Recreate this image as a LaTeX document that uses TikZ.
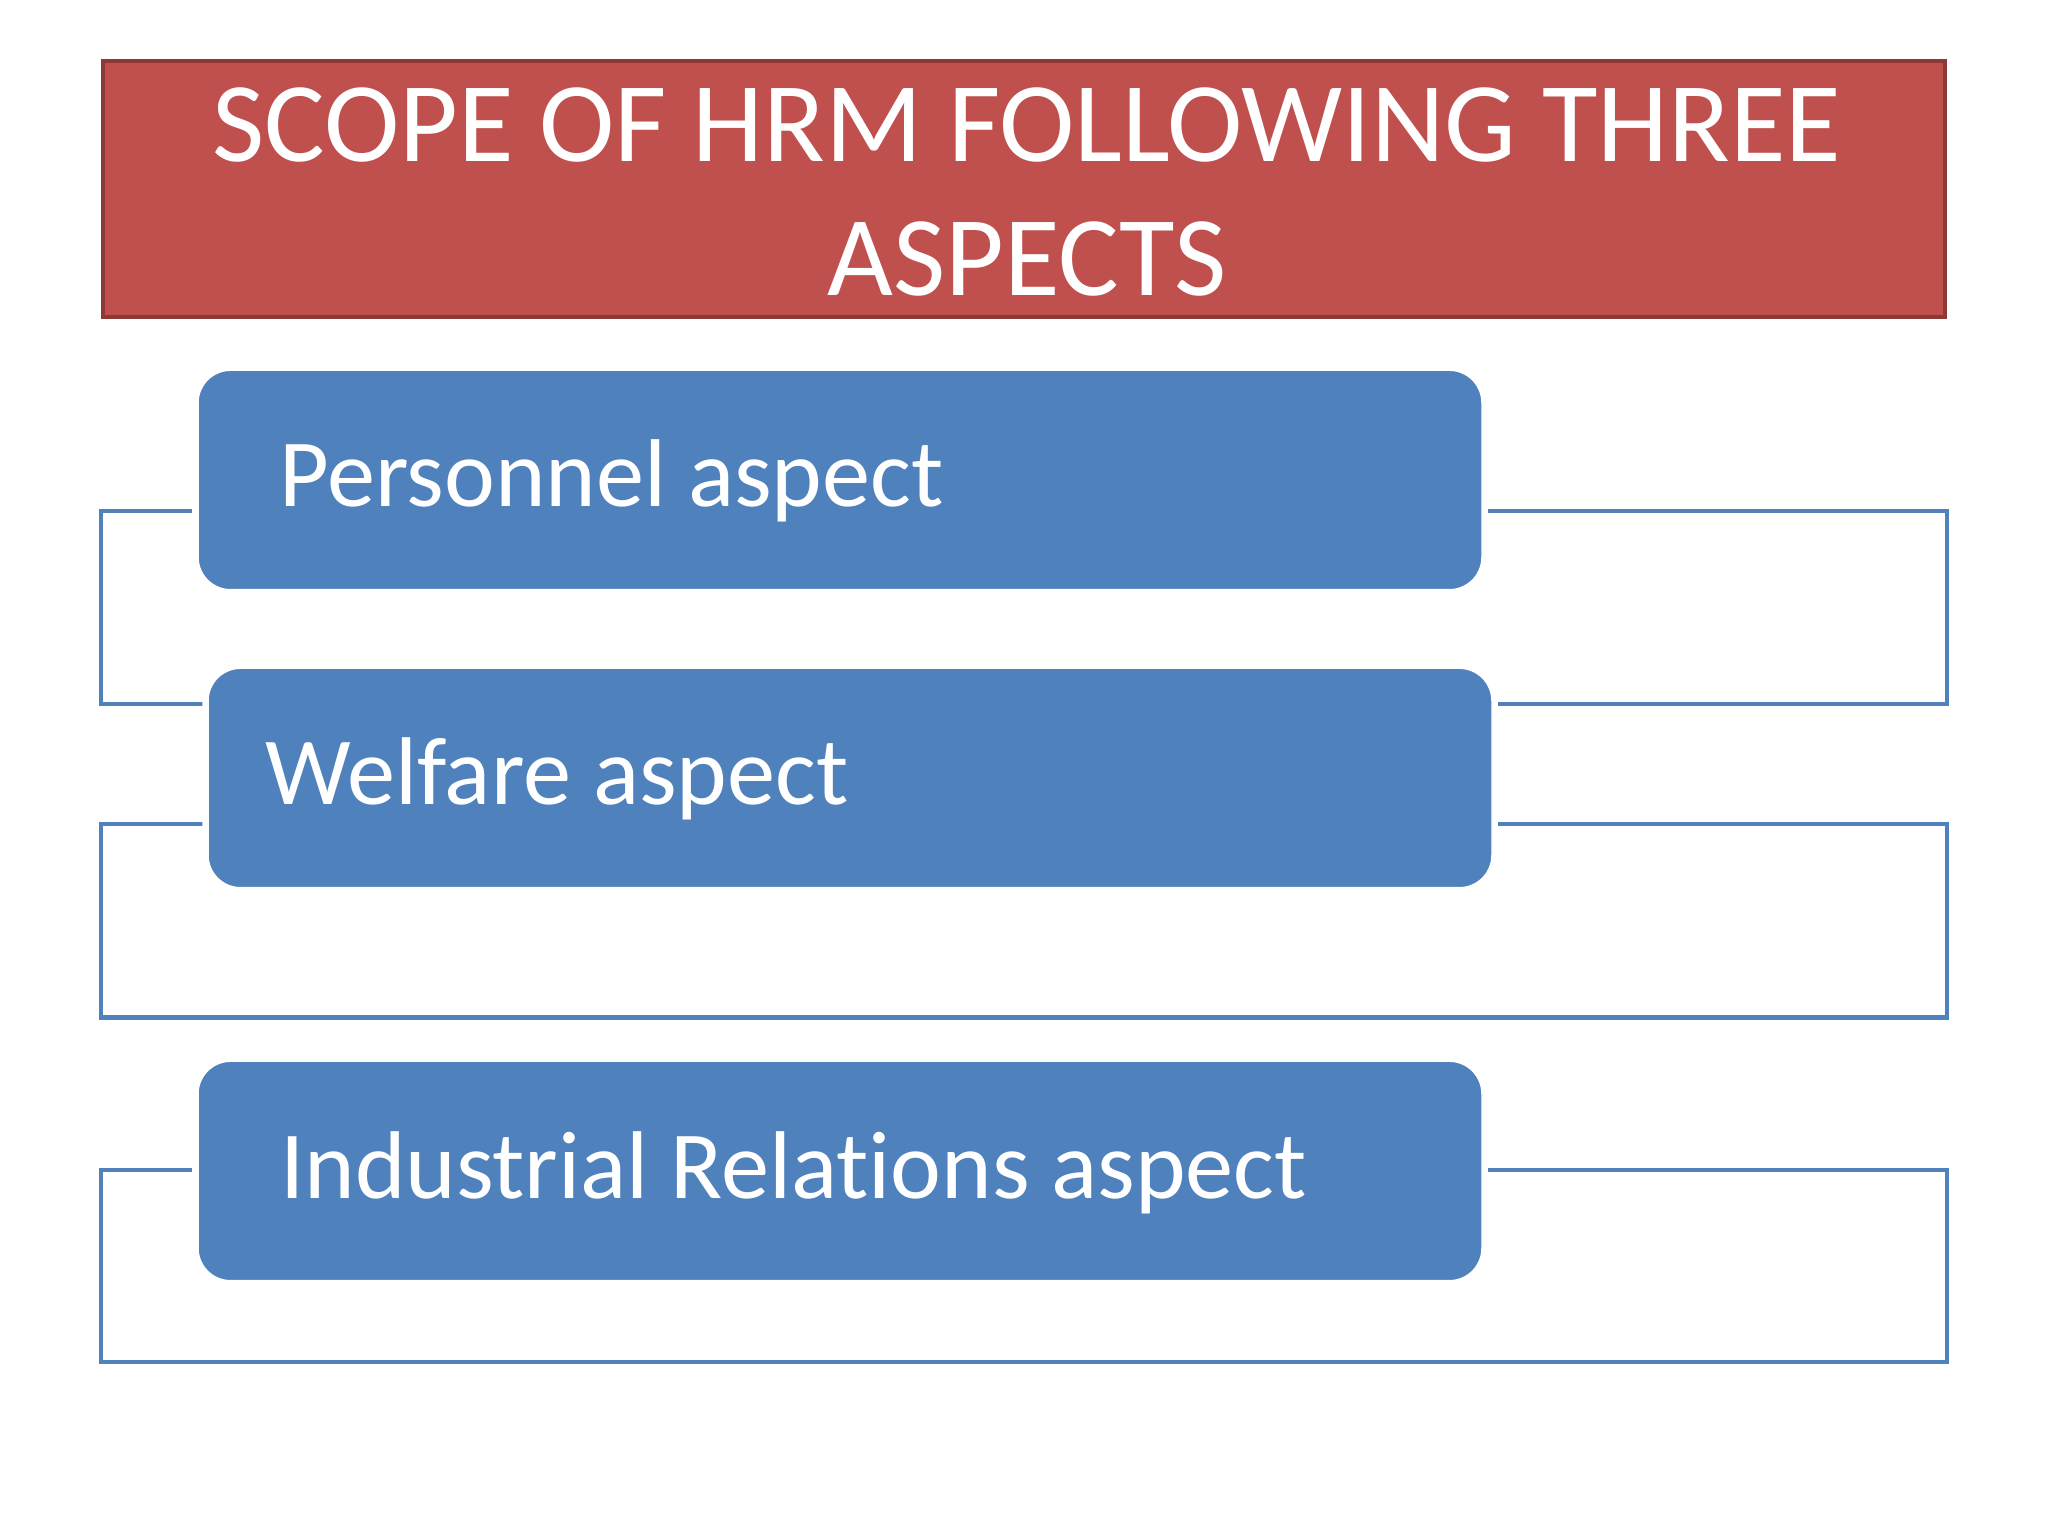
\documentclass[tikz,border=0pt]{standalone}
\usepackage{fontspec}
\setmainfont{Carlito}[Ligatures=NoCommon]
\usepackage{xcolor}
\usepackage{tikz}
\usetikzlibrary{positioning,calc}

\definecolor{hrmred}{HTML}{C0504D}
\definecolor{hrmredline}{HTML}{8C3836}
\definecolor{hrmblue}{HTML}{4F81BD}

\begin{document}
\begin{tikzpicture}[
    titlebox/.style={draw=hrmredline, fill=hrmred, line width=1.2pt, minimum width=18.42cm, minimum height=2.56cm, inner sep=0pt},
    aspectbox/.style={fill=hrmblue, draw=white, line width=0.065cm, rounded corners=0.35cm, minimum width=12.89cm, minimum height=2.245cm, inner sep=0pt, outer sep=0pt},
    aspecttext/.style={anchor=base west, text=white, font=\fontsize{27.4}{33}\selectfont, inner sep=0pt},
    frame/.style={draw=hrmblue, line width=1.35pt}
]
    \useasboundingbox (0,0) rectangle (20.48,15.36);

    % Title
    \node [titlebox] (title) at (10.24,13.47) {};
    \node [text=white, align=center, font=\fontsize{32.35}{38.3}\selectfont] (titletext) at ($(title.center)+(0.03,-0.03)$) {SCOPE OF HRM FOLLOWING THREE\\ASPECTS};

    % Frames behind the boxes
    \draw [frame] (1.01,10.25) rectangle (19.47,8.32);
    \draw [frame] (1.01,7.12) rectangle (19.47,5.185);
    \draw [frame] (1.01,3.66) rectangle (19.47,1.74);

    % Aspect boxes
    \node [aspectbox] (personnel) at (8.40,10.56) {};
    \node [aspecttext] (personneltext) at ($(personnel.west)+(0.83,-0.27)$) {Personnel aspect};

    \node [aspectbox] (welfare) at (8.50,7.58) {};
    \node [aspecttext] (welfaretext) at ($(welfare.west)+(0.59,-0.27)$) {Welfare aspect};

    \node [aspectbox] (industrial) at (8.40,3.65) {};
    \node [aspecttext] (industrialtext) at ($(industrial.west)+(0.84,-0.28)$) {Industrial Relations aspect};
\end{tikzpicture}
\end{document}
